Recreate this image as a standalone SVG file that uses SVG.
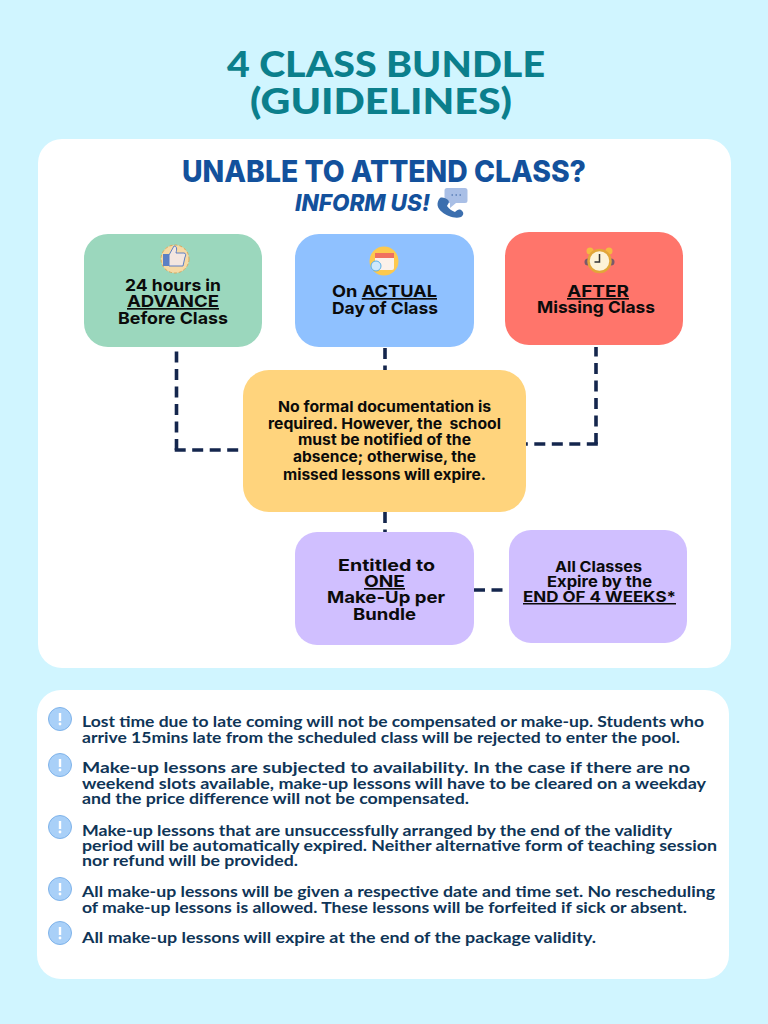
<svg xmlns="http://www.w3.org/2000/svg" width="768" height="1024" viewBox="0 0 768 1024">
<style>
text{font-family:"Inter","Liberation Sans",sans-serif;fill:#0b0b0b;font-weight:700;font-size:16.500px}
.t{font-family:"Lato","Liberation Sans",sans-serif;font-weight:900;fill:#0b7f8c;font-size:36px}
.h{font-weight:800;fill:#13519c;font-size:30px}
.i{font-weight:800;fill:#13519c;font-size:23px;font-style:italic}
.s{font-size:15px}
.m{font-size:15px}
.b{font-family:"Lato","Liberation Sans",sans-serif;font-size:15.500px;font-weight:700;fill:#0f3557}
.u{text-decoration:underline}
.c{fill:none;stroke:#14264d;stroke-width:3.6;stroke-dasharray:11 6.5}
.n{stroke:#7fb3ea;stroke-width:1;fill:#a9d0f8}
</style>
<rect width="768" height="1024" fill="#d0f5ff"/>
<text class="t" x="227" y="77" textLength="318" lengthAdjust="spacingAndGlyphs">4 CLASS BUNDLE</text>
<text class="t" x="250" y="114" textLength="262" lengthAdjust="spacingAndGlyphs">(GUIDELINES)</text>
<rect id="panel-top" x="38" y="139" width="693" height="529" rx="24" fill="#fff"/>
<rect id="panel-bottom" x="37" y="690" width="692" height="289" rx="24" fill="#fff"/>
<g id="heading">
<text class="h" x="182" y="182" textLength="404" lengthAdjust="spacingAndGlyphs">UNABLE TO ATTEND CLASS?</text>
<text class="i" x="295" y="211" textLength="135" lengthAdjust="spacingAndGlyphs">INFORM US!</text>
<path d="M447 188h18a2.500 2.500 0 0 1 2.500 2.500v10a2.500 2.500 0 0 1-2.500 2.500h-9l-6 5v-5h-3a2.500 2.500 0 0 1-2.500-2.500v-10a2.500 2.500 0 0 1 2.500-2.500z" fill="#a9bfe6"/>
<path d="M451.500 195h1.500M455.500 195h1.500M459.500 195h1.500" stroke="#5a7fb8" stroke-width="1.500"/>
<path d="M440 198c-4 5-3 10 2 14 5 4 13 7 19 5 3-2 3-5 0-7-2-1-4 0-6 2-3-1-6-3-8-6 1-2 3-4 1-6-2-2-6-3-8-2z" fill="#3c6fae"/>
</g>
<g id="connectors">
<path class="c" d="M176.500 450V348"/>
<path class="c" d="M174.700 450H243"/>
<path class="c" d="M385 348V371"/>
<path class="c" d="M596 444V347"/>
<path class="c" d="M597.800 444H526"/>
<path class="c" d="M385 512V532"/>
<path class="c" d="M474 590H508"/>
</g>
<g id="node-advance">
<rect x="84" y="234" width="178" height="113" rx="24" fill="#9bd7bd"/>
<circle cx="175" cy="259" r="14" fill="#f7d9a4" stroke="#d9a860" stroke-dasharray="3 2"/>
<path d="M163 254h6v12h-6z" fill="#5c7fc4"/>
<path d="M169 255l5-9c3 0 3 3 2 7h8c2 0 2 3 1 4l-2 9h-14z" fill="#f3e6e0" stroke="#5c7fc4"/>
<text x="125" y="291" textLength="96" lengthAdjust="spacingAndGlyphs">24 hours in</text>
<text class="u" x="127" y="307" textLength="92" lengthAdjust="spacingAndGlyphs">ADVANCE</text>
<text x="118" y="324" textLength="110" lengthAdjust="spacingAndGlyphs">Before Class</text>
</g>
<g id="node-actual">
<rect x="295" y="234" width="179" height="113" rx="24" fill="#8fc1ff"/>
<circle cx="384" cy="261" r="14.500" fill="#fdc94e"/>
<rect x="375" y="253" width="19" height="17" rx="2" fill="#fbf1ea"/>
<rect x="375" y="253" width="19" height="5" fill="#f0705f"/>
<circle cx="376" cy="266" r="5" fill="#cfe8fb" stroke="#5ab0e6"/>
<text x="332" y="297" textLength="105" lengthAdjust="spacingAndGlyphs">On <tspan class="u">ACTUAL</tspan></text>
<text x="332" y="314" textLength="106" lengthAdjust="spacingAndGlyphs">Day of Class</text>
</g>
<g id="node-after">
<rect x="505" y="232" width="178" height="113" rx="24" fill="#ff756b"/>
<circle cx="588" cy="262" r="3.500" fill="#7a5a6a"/>
<circle cx="611" cy="262" r="3.500" fill="#7a5a6a"/>
<circle cx="590" cy="251" r="3.500" fill="#f5b942"/>
<circle cx="609" cy="251" r="3.500" fill="#f5b942"/>
<circle cx="599.500" cy="261" r="11" fill="#fdf3d8" stroke="#e2a63a" stroke-width="2.500"/>
<path d="M599.500 254v8h-5" fill="none" stroke="#333" stroke-width="1.500"/>
<text class="u" x="567" y="297" textLength="62" lengthAdjust="spacingAndGlyphs">AFTER</text>
<text x="537" y="313" textLength="118" lengthAdjust="spacingAndGlyphs">Missing Class</text>
</g>
<g id="node-notice">
<rect x="243" y="370" width="283" height="142" rx="26" fill="#ffd47d"/>
<text class="s" x="278" y="412" textLength="213" lengthAdjust="spacingAndGlyphs">No formal documentation is</text>
<text class="s" x="268" y="429" textLength="233" lengthAdjust="spacingAndGlyphs" xml:space="preserve">required. However, the  school</text>
<text class="s" x="298" y="445" textLength="173" lengthAdjust="spacingAndGlyphs">must be notified of the</text>
<text class="s" x="293" y="462" textLength="183" lengthAdjust="spacingAndGlyphs">absence; otherwise, the</text>
<text class="s" x="283" y="480" textLength="203" lengthAdjust="spacingAndGlyphs">missed lessons will expire.</text>
</g>
<g id="node-entitled">
<rect x="295" y="532" width="179" height="113" rx="22" fill="#d0bfff"/>
<text x="338" y="571" textLength="97" lengthAdjust="spacingAndGlyphs">Entitled to</text>
<text class="u" x="364" y="587" textLength="41" lengthAdjust="spacingAndGlyphs">ONE</text>
<text x="327" y="603" textLength="118" lengthAdjust="spacingAndGlyphs">Make-Up per</text>
<text x="353" y="620" textLength="63" lengthAdjust="spacingAndGlyphs">Bundle</text>
</g>
<g id="node-expire">
<rect x="509" y="530" width="178" height="113" rx="22" fill="#d0bfff"/>
<text class="m" x="555" y="572" textLength="87" lengthAdjust="spacingAndGlyphs">All Classes</text>
<text class="m" x="547" y="587" textLength="105" lengthAdjust="spacingAndGlyphs">Expire by the</text>
<text class="m u" x="523" y="602" textLength="153" lengthAdjust="spacingAndGlyphs">END OF 4 WEEKS*</text>
</g>
<g id="notes">
<g id="note-1"><circle class="n" cx="60" cy="719" r="11.500"/><rect x="58.800" y="713" width="2.400" height="8" fill="#fff"/><circle cx="60" cy="724" r="1.400" fill="#fff"/>
<text class="b" x="82" y="727" textLength="622" lengthAdjust="spacingAndGlyphs">Lost time due to late coming will not be compensated or make-up. Students who</text>
<text class="b" x="82" y="743" textLength="598" lengthAdjust="spacingAndGlyphs">arrive 15mins late from the scheduled class will be rejected to enter the pool.</text></g>
<g id="note-2"><circle class="n" cx="60" cy="765" r="11.500"/><rect x="58.800" y="759" width="2.400" height="8" fill="#fff"/><circle cx="60" cy="770" r="1.400" fill="#fff"/>
<text class="b" x="82" y="773" textLength="608" lengthAdjust="spacingAndGlyphs">Make-up lessons are subjected to availability. In the case if there are no</text>
<text class="b" x="82" y="789" textLength="624" lengthAdjust="spacingAndGlyphs">weekend slots available, make-up lessons will have to be cleared on a weekday</text>
<text class="b" x="82" y="804" textLength="387" lengthAdjust="spacingAndGlyphs">and the price difference will not be compensated.</text></g>
<g id="note-3"><circle class="n" cx="60" cy="827" r="11.500"/><rect x="58.800" y="821" width="2.400" height="8" fill="#fff"/><circle cx="60" cy="832" r="1.400" fill="#fff"/>
<text class="b" x="82" y="836" textLength="590" lengthAdjust="spacingAndGlyphs">Make-up lessons that are unsuccessfully arranged by the end of the validity</text>
<text class="b" x="82" y="851" textLength="635" lengthAdjust="spacingAndGlyphs">period will be automatically expired. Neither alternative form of teaching session</text>
<text class="b" x="82" y="866" textLength="216" lengthAdjust="spacingAndGlyphs">nor refund will be provided.</text></g>
<g id="note-4"><circle class="n" cx="60" cy="889" r="11.500"/><rect x="58.800" y="883" width="2.400" height="8" fill="#fff"/><circle cx="60" cy="894" r="1.400" fill="#fff"/>
<text class="b" x="82" y="897" textLength="633" lengthAdjust="spacingAndGlyphs">All make-up lessons will be given a respective date and time set. No rescheduling</text>
<text class="b" x="82" y="913" textLength="605" lengthAdjust="spacingAndGlyphs">of make-up lessons is allowed. These lessons will be forfeited if sick or absent.</text></g>
<g id="note-5"><circle class="n" cx="60" cy="933" r="11.500"/><rect x="58.800" y="927" width="2.400" height="8" fill="#fff"/><circle cx="60" cy="938" r="1.400" fill="#fff"/>
<text class="b" x="82" y="943" textLength="514" lengthAdjust="spacingAndGlyphs">All make-up lessons will expire at the end of the package validity.</text></g>
</g>
</svg>
